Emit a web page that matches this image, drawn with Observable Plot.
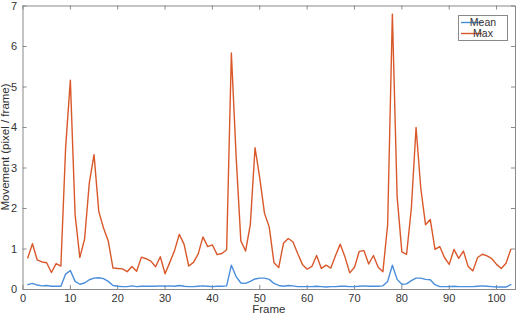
<!DOCTYPE html>
<html>
<head>
<meta charset="utf-8">
<script src="https://cdn.jsdelivr.net/npm/d3@7"></script>
<script src="https://cdn.jsdelivr.net/npm/@observablehq/plot@0.6"></script>
<style>
  html, body { margin: 0; padding: 0; background: #fff; }
  #chart { width: 520px; height: 317px; }
</style>
</head>
<body>
<div id="chart"></div>
<script>
const seriesNames = ["Mean", "Max"];
const frames = d3.range(1, 104);
const maxValues = [
  0.78, 1.13, 0.73, 0.68, 0.66, 0.42, 0.64, 0.58, 3.5, 5.17,
  1.85, 0.79, 1.24, 2.63, 3.33, 1.93, 1.52, 1.2, 0.53, 0.52,
  0.51, 0.44, 0.57, 0.45, 0.8, 0.76, 0.7, 0.56, 0.81, 0.39,
  0.67, 0.96, 1.36, 1.12, 0.58, 0.67, 0.88, 1.3, 1.06, 1.1,
  0.86, 0.89, 0.98, 5.84, 3.3, 1.2, 0.95, 1.6, 3.5, 2.75,
  1.88, 1.54, 0.66, 0.54, 1.14, 1.26, 1.18, 0.89, 0.62, 0.5,
  0.57, 0.84, 0.52, 0.6, 0.53, 0.84, 1.12, 0.8, 0.41, 0.55,
  0.94, 0.96, 0.63, 0.84, 0.55, 0.44, 1.6, 6.8, 2.3, 0.93,
  0.87, 2.0, 4.0, 2.5, 1.6, 1.73, 0.99, 1.06, 0.79, 0.62,
  0.99, 0.77, 0.95, 0.57, 0.46, 0.79, 0.87, 0.83, 0.76, 0.62,
  0.52, 0.65, 0.99
];
const meanValues = [
  0.12, 0.15, 0.11, 0.09, 0.1, 0.08, 0.08, 0.08, 0.38, 0.47,
  0.2, 0.13, 0.16, 0.24, 0.28, 0.29, 0.27, 0.2, 0.1, 0.08,
  0.07, 0.07, 0.09, 0.07, 0.08, 0.08, 0.08, 0.08, 0.09, 0.08,
  0.09, 0.08, 0.1, 0.08, 0.07, 0.07, 0.08, 0.09, 0.08, 0.07,
  0.08, 0.08, 0.09, 0.6, 0.32, 0.16, 0.15, 0.2, 0.26, 0.28,
  0.28, 0.25, 0.15, 0.1, 0.08, 0.1, 0.09, 0.07, 0.07, 0.07,
  0.07, 0.08, 0.07, 0.06, 0.07, 0.07, 0.08, 0.08, 0.07, 0.07,
  0.08, 0.09, 0.08, 0.08, 0.08, 0.09, 0.2, 0.6, 0.25, 0.13,
  0.14, 0.22, 0.28, 0.28, 0.25, 0.24, 0.12, 0.07, 0.07, 0.07,
  0.08, 0.07, 0.07, 0.07, 0.07, 0.08, 0.09, 0.08, 0.07, 0.06,
  0.06, 0.06, 0.12
];
const xTicks = [0, 10, 20, 30, 40, 50, 60, 70, 80, 90, 100];
const yTicks = [0, 1, 2, 3, 4, 5, 6, 7];
const xLabel = "Frame";
const yLabel = "Movement (pixel / frame)";
const colors = ["#4a8edb", "#d9582a"];

const data = [];
frames.forEach((f, i) => {
  data.push({frame: f, value: meanValues[i], series: seriesNames[0]});
  data.push({frame: f, value: maxValues[i], series: seriesNames[1]});
});

const xDomain = [0, 104];
const yDomain = [0, 7];
const axisColor = "#8a8a8a";
const tickLenX = 0.85; // in frames (~4px)
const tickLenY = 0.1;  // in y units (~4px)

const plot = Plot.plot({
  width: 520,
  height: 317,
  marginLeft: 22.5,
  marginRight: 5,
  marginTop: 5.5,
  marginBottom: 28,
  style: {fontFamily: "Liberation Sans, Arial, sans-serif", fontSize: "11px", color: "#333"},
  x: {domain: xDomain},
  y: {domain: yDomain},
  color: {domain: seriesNames, range: colors},
  marks: [
    Plot.axisX(xTicks, {tickSize: 0, tickPadding: 5, label: null, fill: "#333", fontSize: 11}),
    Plot.axisY(yTicks, {tickSize: 0, tickPadding: 6, label: null, fill: "#333", fontSize: 11}),
    Plot.ruleX(xTicks, {x: d => d, y1: 0, y2: tickLenY, stroke: axisColor}),
    Plot.ruleX(xTicks, {x: d => d, y1: yDomain[1] - tickLenY, y2: yDomain[1], stroke: axisColor}),
    Plot.ruleY(yTicks, {y: d => d, x1: 0, x2: tickLenX, stroke: axisColor}),
    Plot.ruleY(yTicks, {y: d => d, x1: xDomain[1] - tickLenX, x2: xDomain[1], stroke: axisColor}),
    Plot.frame({stroke: axisColor}),
    Plot.line(data, {x: "frame", y: "value", z: "series", stroke: "series", strokeWidth: 1.4})
  ]
});

const svg = d3.select(plot);
// axis titles
svg.append("text")
  .attr("x", 22.5 + (515 - 22.5) / 2).attr("y", 313)
  .attr("text-anchor", "middle").attr("font-size", 11.5).attr("fill", "#333")
  .attr("font-family", "Liberation Sans, Arial, sans-serif")
  .text(xLabel);
svg.append("text")
  .attr("transform", "translate(8.5,147) rotate(-90)")
  .attr("text-anchor", "middle").attr("font-size", 11.5).attr("fill", "#333")
  .attr("font-family", "Liberation Sans, Arial, sans-serif")
  .text(yLabel);

// legend (MATLAB style box)
const lg = svg.append("g").attr("font-family", "Liberation Sans, Arial, sans-serif").attr("font-size", 10.5);
lg.append("rect").attr("x", 458.5).attr("y", 15.5).attr("width", 49).attr("height", 25)
  .attr("fill", "#fff").attr("stroke", "#8a8a8a");
seriesNames.forEach((name, i) => {
  const yy = 22.5 + i * 11;
  lg.append("line").attr("x1", 461).attr("x2", 482).attr("y1", yy).attr("y2", yy)
    .attr("stroke", colors[i]).attr("stroke-width", 1.4);
  lg.append("text").attr("x", 483).attr("y", yy + 3.8).attr("fill", "#333").text(name);
});

document.getElementById("chart").appendChild(plot);
</script>
</body>
</html>
